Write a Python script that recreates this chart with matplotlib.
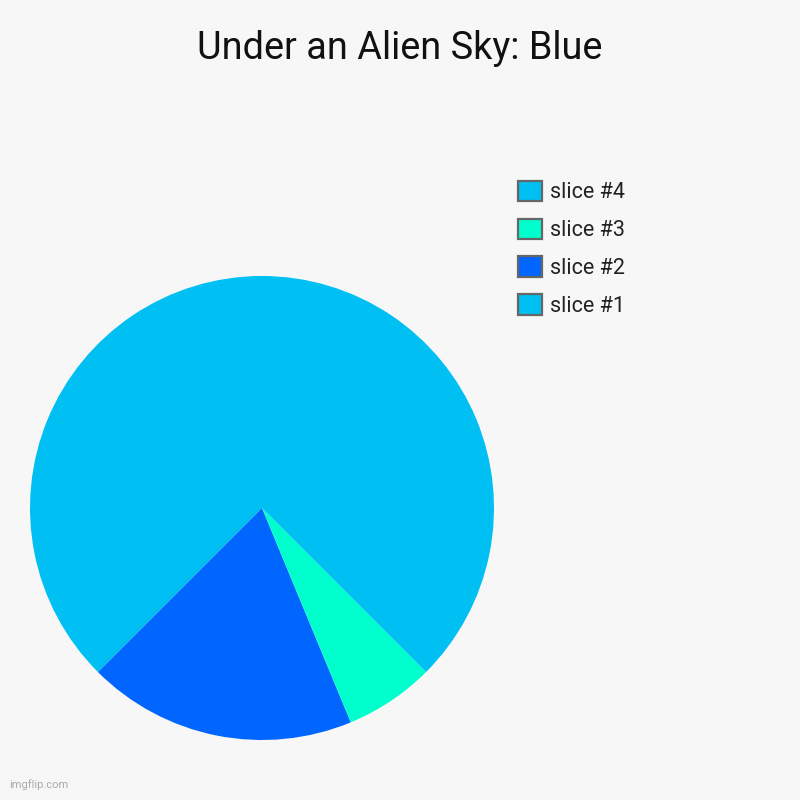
import matplotlib.pyplot as plt
from matplotlib.patches import Patch

plt.switch_backend('Agg')
plt.rcParams['font.family'] = ['Roboto', 'DejaVu Sans']

labels = ['slice #1', 'slice #2', 'slice #3', 'slice #4']
values = [6, 3, 1, 6]
colors = ['#00BFF3', '#0066FF', '#00FFCC', '#00BFF3']
title = 'Under an Alien Sky: Blue'

bg = '#F7F7F7'
fig = plt.figure(figsize=(8, 8), dpi=100, facecolor=bg)

ax = fig.add_axes([0.0375, 0.075, 0.58, 0.58])
ax.set_facecolor(bg)
ax.pie(values, colors=colors, startangle=90, counterclock=True,
       wedgeprops={'linewidth': 0})
ax.set_xlim(-1, 1)
ax.set_ylim(-1, 1)
ax.axis('off')

fig.text(0.5, 0.939, title, ha='center', va='center', fontsize=27.3, color='#111111')

handles = [Patch(facecolor=c, edgecolor='#666666', linewidth=1.6) for c in colors]
leg = fig.legend(handles[::-1], labels[::-1], loc='upper left',
                 bbox_to_anchor=(0.6475, 0.774), frameon=False,
                 fontsize=15.5, handlelength=1.1, handleheight=1.1,
                 handletextpad=0.4, labelspacing=0.7, borderpad=0, borderaxespad=0)
for t in leg.get_texts():
    t.set_color('#222222')

fig.text(0.012, 0.012, 'imgflip.com', fontsize=8, color='#AAAAAA', ha='left', va='bottom')

fig.savefig('out.png', dpi=100, facecolor=bg)
plt.close(fig)
